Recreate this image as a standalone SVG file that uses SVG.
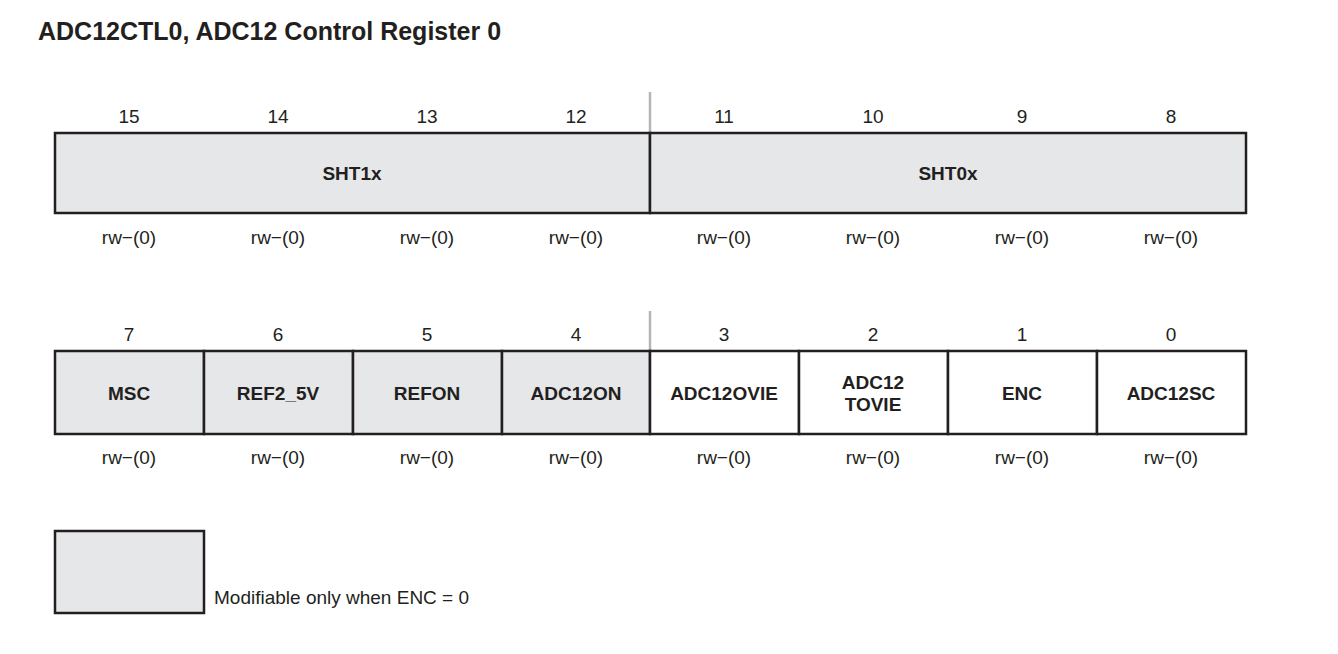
<svg xmlns="http://www.w3.org/2000/svg" width="1338" height="654" viewBox="0 0 1338 654">
<style>
text{font-family:"Liberation Sans",Arial,sans-serif;fill:#231f20;text-anchor:middle}
.t{font-weight:bold;font-size:25px;text-anchor:start}
.n{font-size:19px}
.r{font-size:19px}
.l{font-weight:bold;font-size:19px}
.g{fill:#e6e7e9;stroke:#231f20;stroke-width:2.5}
.w{fill:#fff;stroke:#231f20;stroke-width:2.5}
.sep{stroke:#b5b5b5;stroke-width:2.5}
</style>
<rect width="1338" height="654" fill="#fff"/>
<text class="t" x="38" y="40">ADC12CTL0, ADC12 Control Register 0</text>
<g id="connectors">
<line class="sep" x1="650" y1="92" x2="650" y2="133"/>
<line class="sep" x1="650" y1="311" x2="650" y2="351"/>
</g>
<g id="bits-high">
<text class="n" x="129" y="123">15</text><text class="n" x="278" y="123">14</text><text class="n" x="427" y="123">13</text><text class="n" x="576" y="123">12</text>
<text class="n" x="724" y="123">11</text><text class="n" x="873" y="123">10</text><text class="n" x="1022" y="123">9</text><text class="n" x="1171" y="123">8</text>
</g>
<g id="SHT1x"><rect class="g" x="55" y="133" width="595" height="80"/><text class="l" x="352" y="180">SHT1x</text></g>
<g id="SHT0x"><rect class="g" x="650" y="133" width="596" height="80"/><text class="l" x="948" y="180">SHT0x</text></g>
<g id="rw-high">
<text class="r" x="129" y="244">rw−(0)</text><text class="r" x="278" y="244">rw−(0)</text><text class="r" x="427" y="244">rw−(0)</text><text class="r" x="576" y="244">rw−(0)</text>
<text class="r" x="724" y="244">rw−(0)</text><text class="r" x="873" y="244">rw−(0)</text><text class="r" x="1022" y="244">rw−(0)</text><text class="r" x="1171" y="244">rw−(0)</text>
</g>
<g id="bits-low">
<text class="n" x="129" y="341">7</text><text class="n" x="278" y="341">6</text><text class="n" x="427" y="341">5</text><text class="n" x="576" y="341">4</text>
<text class="n" x="724" y="341">3</text><text class="n" x="873" y="341">2</text><text class="n" x="1022" y="341">1</text><text class="n" x="1171" y="341">0</text>
</g>
<g id="MSC"><rect class="g" x="55" y="351" width="149" height="83"/><text class="l" x="129" y="400">MSC</text></g>
<g id="REF2_5V"><rect class="g" x="204" y="351" width="149" height="83"/><text class="l" x="278" y="400">REF2_5V</text></g>
<g id="REFON"><rect class="g" x="353" y="351" width="149" height="83"/><text class="l" x="427" y="400">REFON</text></g>
<g id="ADC12ON"><rect class="g" x="502" y="351" width="148" height="83"/><text class="l" x="576" y="400">ADC12ON</text></g>
<g id="ADC12OVIE"><rect class="w" x="650" y="351" width="149" height="83"/><text class="l" x="724" y="400">ADC12OVIE</text></g>
<g id="ADC12TOVIE"><rect class="w" x="799" y="351" width="149" height="83"/><text class="l" x="873" y="389">ADC12</text><text class="l" x="873" y="411">TOVIE</text></g>
<g id="ENC"><rect class="w" x="948" y="351" width="149" height="83"/><text class="l" x="1022" y="400">ENC</text></g>
<g id="ADC12SC"><rect class="w" x="1097" y="351" width="149" height="83"/><text class="l" x="1171" y="400">ADC12SC</text></g>
<g id="rw-low">
<text class="r" x="129" y="464">rw−(0)</text><text class="r" x="278" y="464">rw−(0)</text><text class="r" x="427" y="464">rw−(0)</text><text class="r" x="576" y="464">rw−(0)</text>
<text class="r" x="724" y="464">rw−(0)</text><text class="r" x="873" y="464">rw−(0)</text><text class="r" x="1022" y="464">rw−(0)</text><text class="r" x="1171" y="464">rw−(0)</text>
</g>
<g id="legend"><rect class="g" x="55" y="531" width="149" height="82"/><text class="r" x="214" y="604" style="text-anchor:start">Modifiable only when ENC = 0</text></g>
</svg>
